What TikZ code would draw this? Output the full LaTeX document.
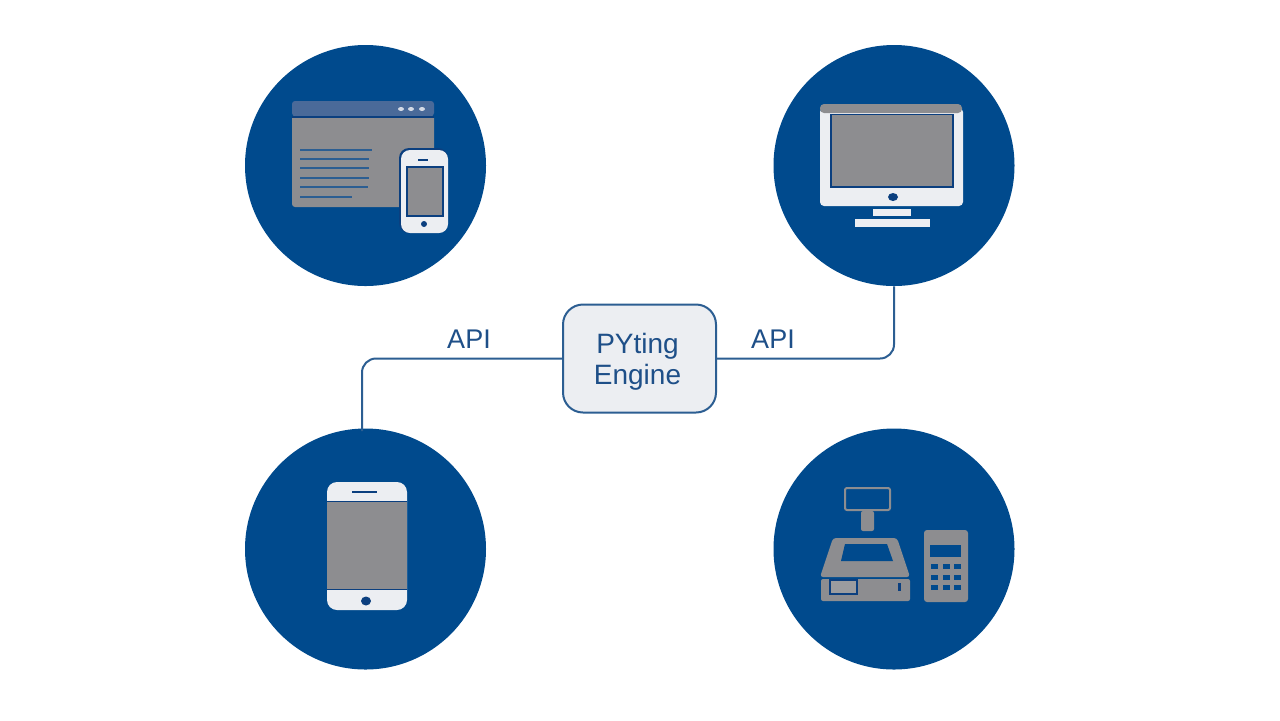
\documentclass[tikz,border=0pt]{standalone}
\usepackage{fontspec}
\setmainfont{Liberation Sans}
\definecolor{disc}{HTML}{004A8D}
\definecolor{panel}{HTML}{8D8D90}
\definecolor{pale}{HTML}{ECEEF2}
\definecolor{bar}{HTML}{4A6A99}
\definecolor{ink}{HTML}{1E4F88}
\definecolor{wire}{HTML}{2C5E92}
\definecolor{edge}{HTML}{0B3F7F}
\newcommand{\engineline}[1]{\hspace*{-2pt}#1}
\tikzset{
  hub/.style={circle,fill=disc,draw=none,minimum size=120.5pt,inner sep=0pt},
  enginebox/.style={rounded corners=10pt,draw=wire,line width=1pt,fill=pale,minimum width=76.5pt,minimum height=54pt,inner sep=0pt,align=center,font=\fontsize{14}{15.5}\selectfont,text=ink},
  apilabel/.style={font=\fontsize{13.5}{15}\selectfont,text=ink,inner sep=0pt},
  wireline/.style={draw=wire,line width=1pt,rounded corners=7pt},
  darkline/.style={draw=edge,line width=0.8pt},
  textline/.style={draw=wire,line width=1pt}
}
\begin{document}
\begin{tikzpicture}[x=0.5pt,y=-0.5pt]
\useasboundingbox (0,0) rectangle (1280,720);
\fill[white] (0,0) rectangle (1280,720);
% hubs
\node[hub] (web) at (365.5,165.5) {};
\node[hub] (desk) at (894,165.5) {};
\node[hub] (mobile) at (365.5,549) {};
\node[hub] (pos) at (894,549) {};
% engine
\node[enginebox] (engine) at (639.5,358.5) {\rule{0pt}{13.5pt}\engineline{PYting}\\\engineline{Engine}};
% connectors
\coordinate (mobiletop) at (362,431);
\draw[wireline] (engine.west) -| (mobiletop);
\draw[wireline] (engine.east) -| (desk.south);
\node[apilabel] (apileft) at (469,339) {API};
\node[apilabel] (apiright) at (773,339) {API};
% browser icon
\fill[panel,rounded corners=1.5pt] (292,115) rectangle (434,207);
\fill[bar,rounded corners=1.5pt] (292,101) rectangle (434,116);
\draw[darkline] (292,117) -- (434,117);
\foreach \x in {401,411,422} \fill[pale!85!bar] (\x,109) ellipse (3 and 2);
\foreach \y/\e in {150/372,159/369,168/369,177.5/369,187/368,196.5/352}
  \draw[textline] (300,\y) -- (\e,\y);
% phone over browser
\fill[edge,rounded corners=5pt] (399,148) rectangle (448,233);
\fill[pale,rounded corners=4.5pt] (401,150) rectangle (448,233);
\fill[panel,draw=edge,line width=0.8pt] (407,167) rectangle (443,216);
\draw[edge,line width=1pt] (418,159.5) -- (428,159.5);
\fill[edge] (424,224) circle (3);
% desktop icon
\fill[pale,rounded corners=2pt] (820,108) rectangle (963,206);
\fill[panel,rounded corners=2pt] (820,104) rectangle (962,113);
\fill[panel,draw=edge,line width=0.8pt] (831,114.5) rectangle (953,187);
\fill[edge] (893,197) ellipse (5 and 4);
\fill[pale] (873,209) rectangle (911,216);
\fill[pale] (855,219) rectangle (930,227);
% mobile icon
\fill[pale,rounded corners=5pt] (327,482) rectangle (407,610);
\fill[panel] (327,502) rectangle (407,589);
\draw[edge,line width=0.5pt] (327,501.5) -- (407,501.5);
\draw[edge,line width=0.8pt] (327,589.5) -- (407,589.5);
\draw[edge,line width=1pt] (352,491.5) -- (377,491.5);
\fill[edge] (366,601) ellipse (5 and 4.5);
% POS icon
\draw[panel,line width=1pt,rounded corners=1pt] (845,488) rectangle (890,510);
\fill[panel,rounded corners=1pt] (861,511) rectangle (874,531);
\fill[panel,rounded corners=1.5pt] (833,538) -- (897,538) -- (910,577) -- (820,577) -- cycle;
\fill[disc] (845,544) -- (887,544) -- (893,561) -- (841,561) -- cycle;
\fill[panel,rounded corners=1pt] (821,579) rectangle (910,601);
\fill[panel!85!pale,draw=edge,line width=0.8pt] (830,580) rectangle (857,594);
\fill[edge] (897.5,583) rectangle (900.5,591);
\fill[panel,rounded corners=1.5pt] (924,530) rectangle (968,602);
\fill[disc] (930,545) rectangle (961,557);
\foreach \x in {934,946,957} \foreach \y in {566,577,587}
  \fill[disc] (\x-3.5,\y-2.5) rectangle (\x+3.5,\y+2.5);
\end{tikzpicture}
\end{document}
